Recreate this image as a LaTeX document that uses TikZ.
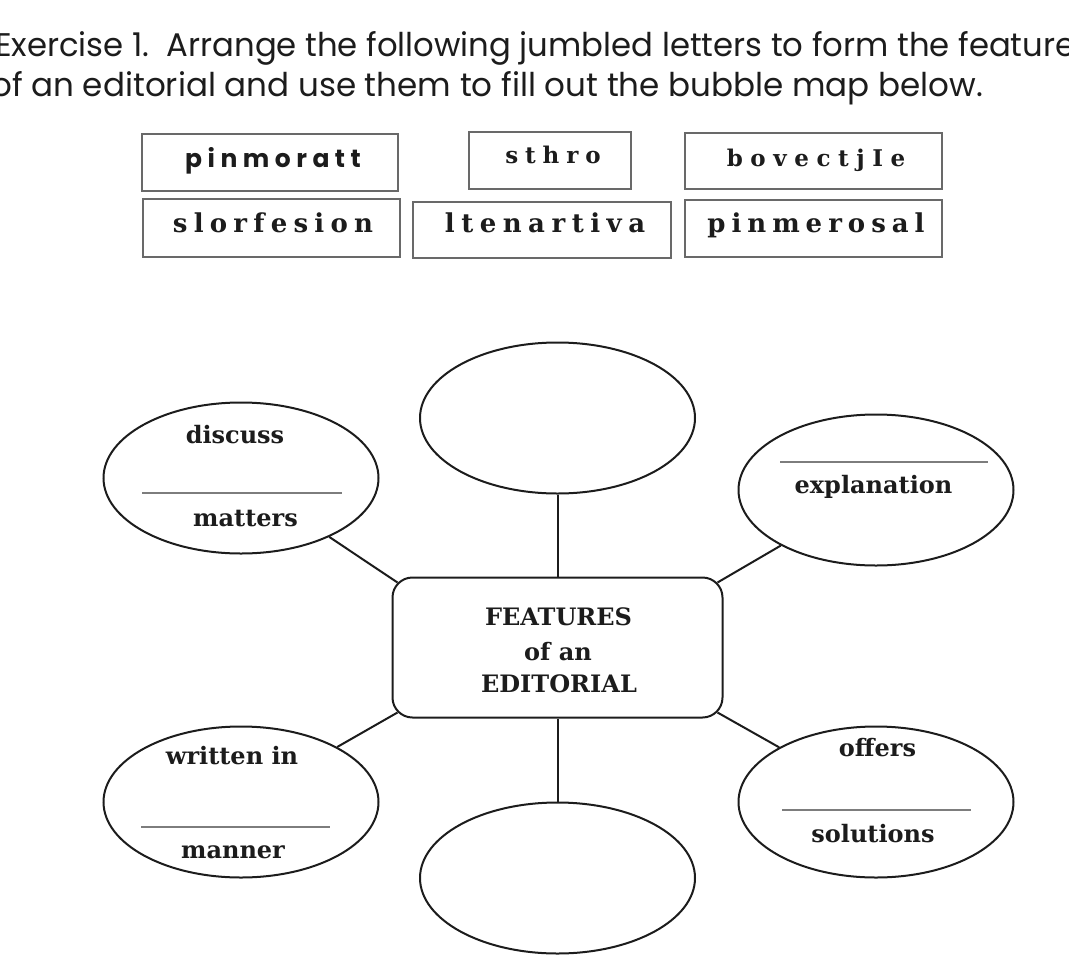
\documentclass[tikz,border=0pt]{standalone}
\usepackage{fontspec}
\usepackage{graphicx}
\newfontfamily\titlefont{Poppins}
\newfontfamily\bubblefont{DejaVu Serif}
\newfontfamily\jumblefont{DejaVu Serif}
\newfontfamily\jumblesans{Poppins}
\definecolor{ink}{RGB}{28,28,28}
\definecolor{boxgray}{RGB}{105,105,105}
\definecolor{blank}{RGB}{125,125,125}
\usetikzlibrary{shapes.geometric,positioning,calc}

% family, size, letter space, word
\newcommand{\jumble}[4]{{#1\bfseries\fontsize{#2}{#2}\selectfont\addfontfeature{LetterSpace=#3}#4}}

\begin{document}
\begin{tikzpicture}[x=1pt,y=-1pt,
    bubble/.style={ellipse,draw=ink,line width=2pt,minimum width=275pt,minimum height=151pt,inner sep=0pt},
    wordbox/.style={draw=boxgray,line width=1.5pt,inner sep=0pt},
    bubbletext/.style={anchor=base,inner sep=0pt,text=ink,font=\bubblefont\bfseries\fontsize{24}{24}\selectfont},
    jumbletext/.style={anchor=base,inner sep=0pt,text=ink},
    blankline/.style={blank,line width=1.5pt},
    link/.style={ink,line width=2pt}]
  \useasboundingbox (0,0) rectangle (1069,959);
  \clip (0,0) rectangle (1069,959);
  % exercise heading
  \node[anchor=base west,inner sep=0pt,text=ink] (head1) at (-5,56)
    {\resizebox{1097pt}{25pt}{\titlefont Exercise 1.\ \ Arrange the following jumbled letters to form the features}};
  \node[anchor=base west,inner sep=0pt,text=ink] (head2) at (-9,96)
    {\resizebox{992pt}{25pt}{\titlefont of an editorial and use them to fill out the bubble map below.}};
  % jumbled words
  \node[wordbox,minimum width=256pt,minimum height=57pt] (boxA) at (270,162.5) {};
  \node[wordbox,minimum width=162pt,minimum height=57pt] (boxB) at (550,160.5) {};
  \node[wordbox,minimum width=257pt,minimum height=56pt] (boxC) at (813.5,161) {};
  \node[wordbox,minimum width=257pt,minimum height=58pt] (boxD) at (271.5,228) {};
  \node[wordbox,minimum width=258pt,minimum height=56pt] (boxE) at (542,230) {};
  \node[wordbox,minimum width=257pt,minimum height=57pt] (boxF) at (813.5,228.5) {};
  \node[jumbletext] (wordA) at (273,167) {\jumble{\jumblesans}{25}{22}{pinmoratt}};
  \node[jumbletext] (wordB) at (553,163) {\jumble{\jumblefont}{23}{30}{sthro}};
  \node[jumbletext] (wordC) at (816,166) {\jumble{\jumblefont}{23}{33}{bovectjIe}};
  \node[jumbletext] (wordD) at (273,232) {\jumble{\jumblefont}{26}{24}{slorfesion}};
  \node[jumbletext] (wordE) at (545,232) {\jumble{\jumblefont}{26}{25}{ltenartiva}};
  \node[jumbletext] (wordF) at (816,232) {\jumble{\jumblefont}{26}{23}{pinmerosal}};
  % bubble map
  \node[draw=ink,line width=2pt,rounded corners=20pt,minimum width=330pt,minimum height=140pt,inner sep=0pt] (hub) at (557.5,647.5) {};
  \node[bubbletext] (hubA) at (558.5,625) {FEATURES};
  \node[bubbletext] (hubB) at (558,660) {of an};
  \node[bubbletext] (hubC) at (559,692) {EDITORIAL};
  \node[bubble] (top) at (557.5,418) {};
  \node[bubble] (bottom) at (557.5,878) {};
  \node[bubble] (ul) at (241,478) {};
  \node[bubble] (ur) at (876,490) {};
  \node[bubble] (ll) at (241,802) {};
  \node[bubble] (lr) at (876,802) {};
  \node[bubbletext] (ulA) at (235,443) {discuss};
  \node[bubbletext] (ulB) at (245.5,526) {matters};
  \node[bubbletext] (urA) at (873.5,493) {explanation};
  \node[bubbletext] (llA) at (232,764) {written in};
  \node[bubbletext] (llB) at (233,858) {manner};
  \node[bubbletext] (lrA) at (877.5,756) {offers};
  \node[bubbletext] (lrB) at (873,842) {solutions};
  % blanks to fill
  \draw[blankline] (142,493) -- (342,493);
  \draw[blankline] (780,462) -- (988,462);
  \draw[blankline] (141,827) -- (330,827);
  \draw[blankline] (782,810) -- (971,810);
  % spokes
  \draw[link] (top) -- (hub);
  \draw[link] (hub) -- (bottom);
  \draw[link] (ul) -- ($(hub.north west)+(6,6)$);
  \draw[link] (ur) -- ($(hub.north east)+(-6,6)$);
  \draw[link] (ll) -- ($(hub.south west)+(6,-6)$);
  \draw[link] (lr) -- ($(hub.south east)+(-6,-6)$);
\end{tikzpicture}
\end{document}
